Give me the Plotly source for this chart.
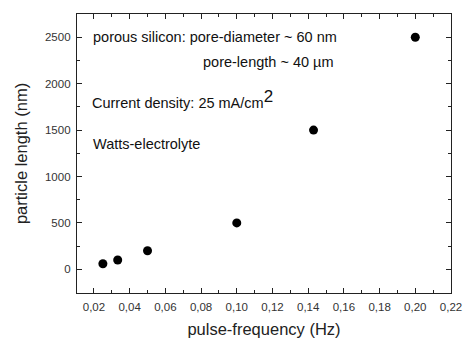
import plotly.graph_objects as go

freq = [0.025, 0.0333, 0.05, 0.1, 0.143, 0.2]
length_nm = [60, 100, 200, 500, 1500, 2500]

x_ticks = [0.02, 0.04, 0.06, 0.08, 0.10, 0.12, 0.14, 0.16, 0.18, 0.20, 0.22]
y_ticks = [0, 500, 1000, 1500, 2000, 2500]

fig = go.Figure()
fig.add_trace(go.Scatter(x=freq, y=length_nm, mode="markers",
                         marker=dict(color="black", size=9), showlegend=False))

font = "Liberation Sans, Arial, sans-serif"
axis_common = dict(
    showline=True, linecolor="#222", linewidth=1.3, mirror="ticks",
    ticks="inside", ticklen=5, tickcolor="#222", tickwidth=1,
    showgrid=False, zeroline=False, ticklabelstandoff=3,
    tickfont=dict(family=font, size=11.5, color="#333"),
)

fig.update_xaxes(range=[0.0105, 0.22], tickvals=x_ticks, tickformat=".2f",
                 minor=dict(ticks="inside", ticklen=3, dtick=0.01, tick0=0.01, tickcolor="#222", showgrid=False),
                 title=dict(text="pulse-frequency (Hz)", font=dict(family=font, size=16.5, color="#222"), standoff=11),
                 **axis_common)
fig.update_yaxes(range=[-255, 2750], tickvals=y_ticks,
                 minor=dict(ticks="inside", ticklen=3, dtick=250, tick0=0, tickcolor="#222", showgrid=False),
                 title=dict(text="particle length (nm)", font=dict(family=font, size=16.5, color="#222"), standoff=13),
                 **axis_common)

ann_font = dict(family=font, size=14.5, color="#111")
notes = [
    (0.0183, 2500, "porous silicon: pore-diameter ~ 60 nm"),
    (0.0798, 2230, "pore-length ~ 40 µm"),
    (0.0180, 1830, "Current density: 25 mA/cm<sup><span style='font-size:17px'>2</span></sup>"),
    (0.0183, 1350, "Watts-electrolyte"),
]
for x, y, t in notes:
    fig.add_annotation(x=x, y=y, text=t, showarrow=False, xanchor="left", yanchor="middle", font=ann_font)

fig.update_layout(
    width=474, height=354,
    margin=dict(l=77, r=21, t=14, b=61),
    paper_bgcolor="white", plot_bgcolor="white",
    separators=", ",
)

fig.write_html("out.html")
